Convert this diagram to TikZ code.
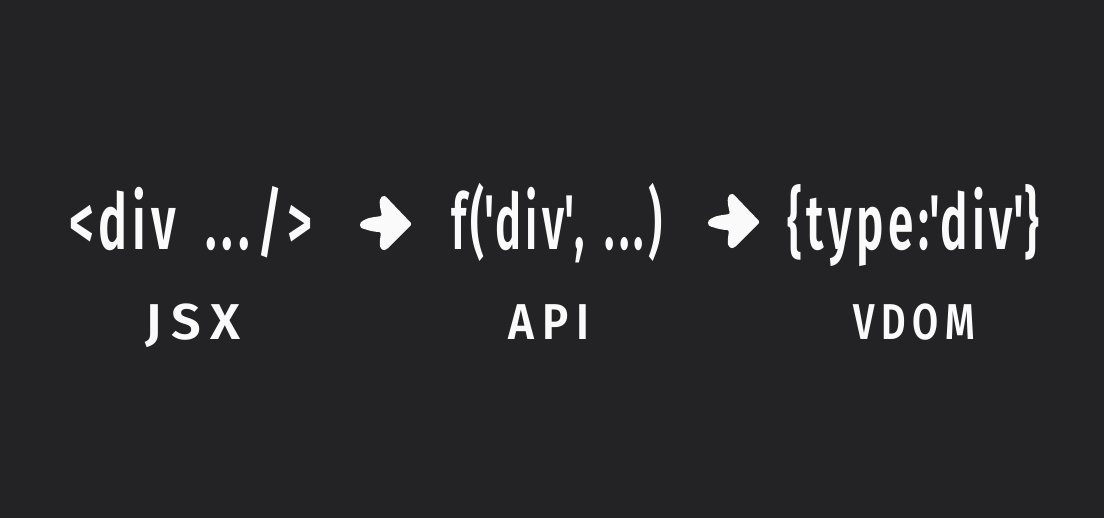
\documentclass[tikz,border=0pt]{standalone}
\usepackage{fontspec}
\setmainfont{Fira Sans}
\newfontfamily\codefont[LetterSpace=10]{Fira Sans SemiBold}
\newfontfamily\lblfont[LetterSpace=18]{Fira Sans SemiBold}
\definecolor{bg}{RGB}{35,35,37}
\definecolor{ink}{RGB}{250,250,250}
\begin{document}
\begin{tikzpicture}[x=1pt,y=-1pt,
  code/.style={text=ink, inner sep=0pt, anchor=base, font=\codefont\fontsize{50}{56}\selectfont},
  lbl/.style={text=ink, inner sep=0pt, anchor=base, font=\lblfont\fontsize{42}{48}\selectfont},
  fatarrow/.style={fill=ink, rounded corners=2pt}]
\fill[bg] (0,0) rectangle (1104,518);
\useasboundingbox (0,0) rectangle (1104,518);
\node[code] (jsx) at (191,250) {\scalebox{0.97}[1.55]{<div\hspace{0.6em}...\,/>}};
\node[code] (api) at (557,250) {\scalebox{0.87}[1.55]{f(\textquotesingle div\textquotesingle,\hspace{0.45em}...)}};
\node[code] (vdom) at (913,250) {\scalebox{0.92}[1.55]{\{type:\textquotesingle div\textquotesingle\}}};
\node[lbl] (jsxl) at (193,340) {\scalebox{1.25}[1.2]{JSX}};
\node[lbl] (apil) at (549,340) {\scalebox{1.05}[1.2]{API}};
\node[lbl] (vdoml) at (914,340) {\scalebox{0.9}[1.2]{VDOM}};
\foreach \tx/\ty in {412/224, 760/222}{
  \fill[fatarrow] (\tx,\ty) -- ++(-23,-24)
    .. controls +(-6,-7) and +(-1,-10) .. ++(-9,7)
    -- ++(2,9)
    .. controls +(-8,1) and +(3,-2) .. ++(-17,4)
    .. controls +(-6,2) and +(-6,-1) .. ++(0,9)
    .. controls +(5,2) and +(-5,0) .. ++(16,3)
    -- ++(-1,8)
    .. controls +(-1,10) and +(-5,5) .. ++(9,7)
    -- cycle;
}
\end{tikzpicture}
\end{document}
